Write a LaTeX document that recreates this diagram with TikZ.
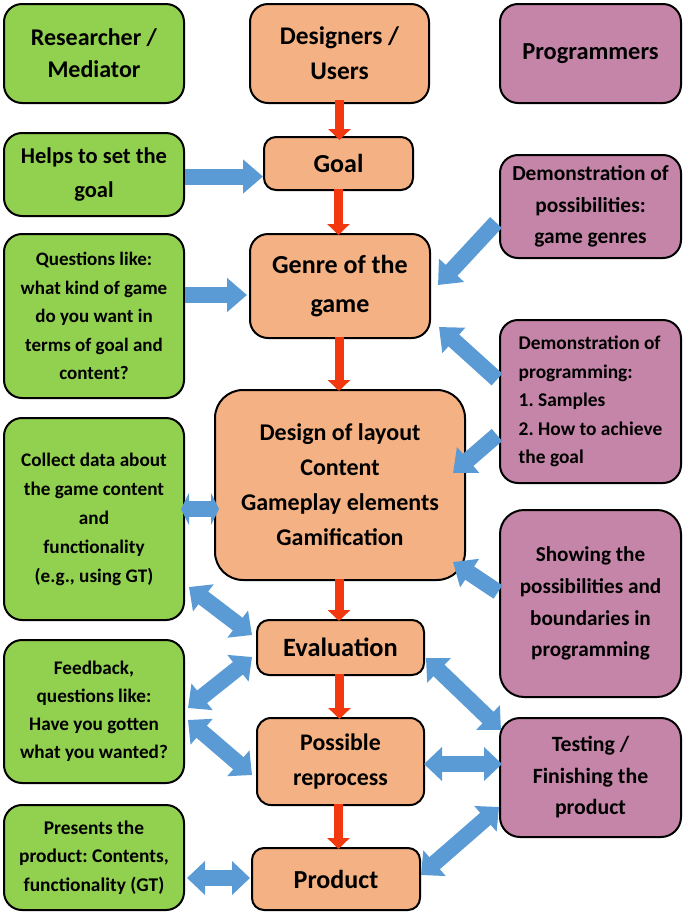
\documentclass[tikz,border=0pt]{standalone}
\usepackage{fontspec}
\setmainfont{Carlito}
\usetikzlibrary{arrows.meta}
\definecolor{boxgreen}{HTML}{92D050}
\definecolor{boxorange}{HTML}{F4B183}
\definecolor{boxpurple}{HTML}{C585A8}
\definecolor{arrblue}{HTML}{5B9BD5}
\definecolor{arrred}{HTML}{F2380F}
\tikzset{
  box/.style={draw=black, line width=2pt, rounded corners=18pt, align=center, inner sep=0pt},
  gbox/.style={box, fill=boxgreen},
  obox/.style={box, fill=boxorange},
  pbox/.style={box, fill=boxpurple},
  fz/.style 2 args={font=\bfseries\frenchspacing\fontsize{#1}{#2}\selectfont},
  redarr/.style={draw=arrred, line width=9pt, -{Triangle[length=11pt,width=22pt]}},
  bluearr/.style={draw=arrblue, line width=16pt, -{Triangle[length=20pt,width=33pt]}},
  bluedbl/.style={draw=arrblue, line width=16pt, {Triangle[length=18pt,width=33pt]}-{Triangle[length=18pt,width=33pt]}},
  blueshort/.style={draw=arrblue, line width=16pt, {Triangle[length=8pt,width=32pt]}-{Triangle[length=8pt,width=32pt]}},
}
\begin{document}
\begin{tikzpicture}[x=1pt,y=-1pt]
\useasboundingbox (0,0) rectangle (685,914);
% green column
\node[gbox, minimum width=180pt, minimum height=99pt, fz={24}{32}] (res) at (94,53.5) {Researcher /\\Mediator};
\node[gbox, minimum width=180pt, minimum height=83pt, fz={22.5}{34}] (helps) at (94,174.5) {Helps to set the\\goal};
\node[gbox, minimum width=180pt, minimum height=164pt, fz={19}{28.4}] (quest) at (94,316) {Questions like:\\what kind of game\\do you want in\\terms of goal and\\content?};
\node[gbox, minimum width=180pt, minimum height=202pt, fz={19.2}{29}] (collect) at (94,519) {Collect data about\\the game content\\and\\functionality\\(e.g., using GT)};
\node[gbox, minimum width=180pt, minimum height=143pt, fz={19.2}{28}] (feed) at (94,711.5) {Feedback,\\questions like:\\Have you gotten\\what you wanted?};
\node[gbox, minimum width=180pt, minimum height=105pt, fz={19.4}{28.3}] (pres) at (94,857.5) {Presents the\\product: Contents,\\functionality (GT)};
% orange column
\node[obox, minimum width=179pt, minimum height=99pt, fz={25.4}{35}] (des) at (339.5,53.5) {Designers /\\Users};
\node[obox, minimum width=149pt, minimum height=53pt, rounded corners=12pt, fz={26}{32}] (goal) at (338.5,163.5) {Goal};
\node[obox, minimum width=180pt, minimum height=104pt, fz={26}{39}] (genre) at (340,286) {\rule{0pt}{14pt}Genre of the\\game};
\node[obox, minimum width=250pt, minimum height=190pt, rounded corners=28pt, fz={24}{35}] (design) at (340,485) {Design of layout\\Content\\Gameplay elements\\Gamification};
\node[obox, minimum width=167pt, minimum height=55pt, rounded corners=12pt, fz={26.4}{32}] (eval) at (340.5,647.5) {Evaluation};
\node[obox, minimum width=167pt, minimum height=87pt, rounded corners=14pt, fz={23.8}{34.7}] (possr) at (340.5,761.5) {Possible\\reprocess};
\node[obox, minimum width=168pt, minimum height=62pt, rounded corners=12pt, fz={26}{32}] (prod) at (336,879) {Product};
% purple column
\node[pbox, minimum width=181pt, minimum height=99pt, fz={24.4}{32}] (prg) at (590.5,53.5) {Programmers};
\node[pbox, minimum width=181pt, minimum height=103pt, fz={21.4}{31.5}] (poss) at (590.5,206.5) {Demonstration of\\possibilities:\\game genres};
\node[pbox, minimum width=181pt, minimum height=163pt, align=left, fz={19.4}{28.5}] (prog) at (590.5,401.5) {Demonstration of\\programming:\\1. Samples\\2. How to achieve\\the goal};
\node[pbox, minimum width=181pt, minimum height=187pt, rounded corners=24pt, fz={21.2}{31.8}] (show) at (590.5,603.5) {Showing the\\possibilities and\\boundaries in\\programming};
\node[pbox, minimum width=181pt, minimum height=119pt, rounded corners=20pt, fz={21.8}{31.5}] (test) at (590.5,777.5) {Testing /\\Finishing the\\product};
% red arrows
\draw[redarr] ([yshift=4pt]des.south) -- ([yshift=-4pt]des.south |- goal.north);
\draw[redarr] ([yshift=2pt]goal.south) -- ([yshift=-2pt]goal.south |- genre.north);
\draw[redarr] ([shift={(-1,-2)}]genre.south) -- ([shift={(-1,2)}]genre.south |- design.north);
\draw[redarr] ([shift={(-1,-2)}]design.south) -- ([shift={(-1,2)}]design.south |- eval.north);
\draw[redarr] ([shift={(-1,-2)}]eval.south) -- ([shift={(-1,2)}]eval.south |- possr.north);
\draw[redarr] ([shift={(-2,-2)}]possr.south) -- ([shift={(-2,2)}]possr.south |- prod.north);
% blue arrows, left
\draw[bluearr] ([yshift=-2pt]helps.east) -- ([yshift=-2pt]helps.east -| goal.west);
\draw[bluearr] ([shift={(0,-21)}]quest.east) -- ([shift={(-2,9)}]genre.west);
\draw[blueshort] ([shift={(-4,-10)}]collect.east) -- ([shift={(5,24)}]design.west);
\draw[bluedbl] ([shift={(4,68)}]collect.east) -- ([shift={(-4,-12.5)}]eval.west);
\draw[bluedbl] ([shift={(3,-3.5)}]feed.east) -- ([shift={(-4,9.5)}]eval.west);
\draw[bluedbl] ([shift={(3,8.5)}]feed.east) -- ([shift={(-4,13.5)}]possr.west);
\draw[bluedbl] ([shift={(2,20.5)}]pres.east) -- ([shift={(-1,-1)}]prod.west);
% blue arrows, right
\draw[bluearr] ([shift={(-3,16)}]poss.west) -- ([shift={(7,-1)}]genre.east);
\draw[bluearr] ([shift={(-2,-22)}]prog.west) -- ([shift={(8,41)}]genre.east);
\draw[bluearr] ([shift={(-2,33.5)}]prog.west) -- ([shift={(-13,-12)}]design.east);
\draw[bluearr] ([shift={(-1,-11.5)}]show.west) -- ([shift={(-13,77)}]design.east);
\draw[bluedbl] ([shift={(1,10.5)}]eval.east) -- ([shift={(2,-47.5)}]test.west);
\draw[bluedbl] ([shift={(-1,2.5)}]possr.east) -- ([shift={(3,-13.5)}]test.west);
\draw[bluedbl] ([shift={(0,-4)}]prod.east) -- ([shift={(0,29.5)}]test.west);
\end{tikzpicture}
\end{document}
